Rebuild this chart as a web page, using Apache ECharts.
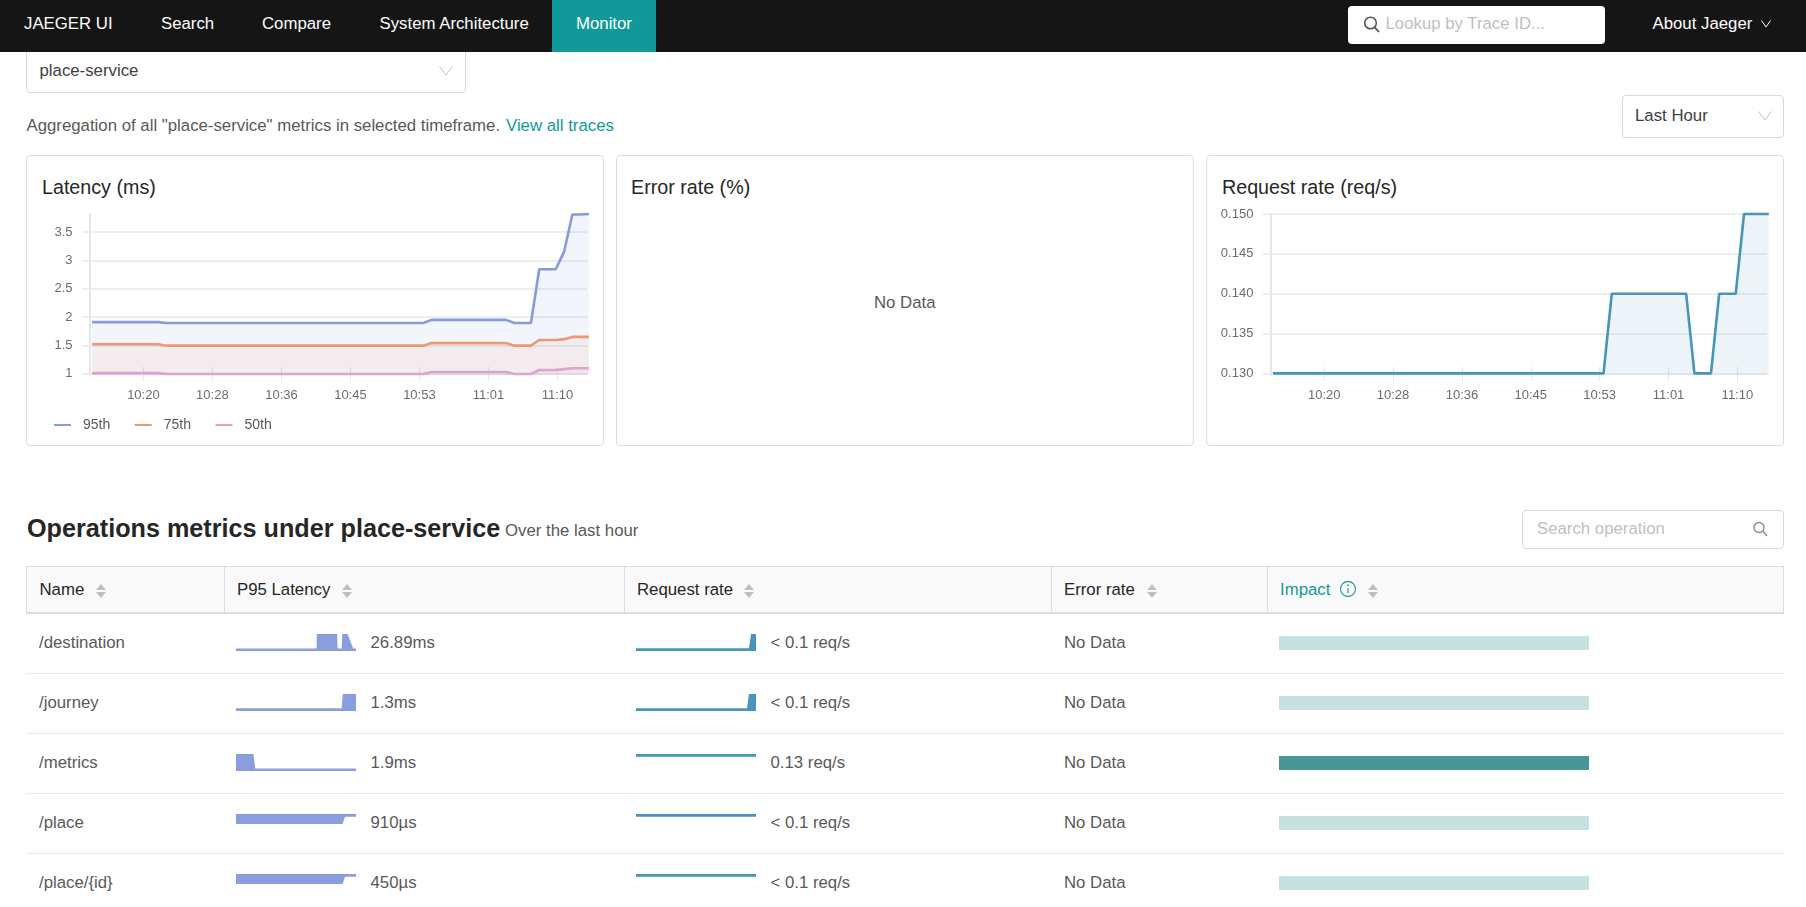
<!DOCTYPE html>
<html>
<head>
<meta charset="utf-8">
<title>Jaeger UI - Monitor</title>
<script src="https://cdn.jsdelivr.net/npm/echarts@6/dist/echarts.min.js"></script>
<style>
  html, body { margin: 0; padding: 0; background: #fff; overflow: hidden; width: 1806px; height: 907px; }
  body { font-family: "Liberation Sans", Arial, sans-serif; font-size: 16.8px; color: #595959; position: relative; }
  .abs { position: absolute; white-space: nowrap; }
  .t { position: absolute; white-space: nowrap; line-height: 20px; margin-top: -10px; }
  .nav { position: absolute; left: 0; top: 0; width: 1806px; height: 52px; background: #151515; z-index: 5; }
  .nav .t { color: #fff; top: 24px; }
  .box { position: absolute; box-sizing: border-box; border: 1.5px solid #d9d9d9; border-radius: 4px; background: #fff; }
  .card { position: absolute; box-sizing: border-box; top: 155px; height: 291px; border: 1.5px solid #ddd; border-radius: 4px; }
  .title { font-size: 19.7px; color: #262626; top: 187px; line-height: 24px; margin-top: -12px; }
  .chart { position: absolute; }
  .head { position: absolute; left: 26px; top: 565.5px; width: 1758px; height: 48px; box-sizing: border-box; background: #fafafa; border: 1.5px solid #ddd; border-bottom-width: 2px; }
  .vline { position: absolute; top: 565.5px; height: 48px; width: 1.5px; background: #ddd; }
  .hline { position: absolute; left: 26px; width: 1758px; height: 1.2px; background: #e8e8e8; }
  .up, .down { position: absolute; width: 0; height: 0; border-left: 5px solid transparent; border-right: 5px solid transparent; }
  .up { border-bottom: 6px solid #bfbfbf; }
  .down { border-top: 6px solid #bfbfbf; }
  .hd { color: #262626; top: 590px; }
</style>
</head>
<body>

<div class="nav">
  <span class="t" style="left:24px">JAEGER UI</span>
  <span class="t" style="left:161px">Search</span>
  <span class="t" style="left:262px">Compare</span>
  <span class="t" style="left:379.5px">System Architecture</span>
  <div class="abs" style="left:552px;top:0;width:104px;height:52px;background:#119999"></div>
  <span class="t" style="left:576px">Monitor</span>
  <div class="abs" style="left:1348px;top:6px;width:257px;height:38px;background:#fff;border-radius:4px"></div>
  <svg class="abs" style="left:1363px;top:15px" width="18" height="20" viewBox="0 0 18 20"><circle cx="7.5" cy="8" r="5.8" fill="none" stroke="#555" stroke-width="1.6"/><line x1="11.8" y1="12.4" x2="16" y2="17" stroke="#555" stroke-width="1.8"/></svg>
  <span class="t" style="left:1385.5px;color:#bfbfbf">Lookup by Trace ID...</span>
  <span class="t" style="left:1652.5px">About Jaeger</span>
  <svg class="abs" style="left:1761px;top:20px" width="10" height="8" viewBox="0 0 10 8"><polyline points="0.5,0.5 5,7 9.5,0.5" fill="none" stroke="#fff" stroke-width="1"/></svg>
</div>

<div class="box" style="left:26px;top:40px;width:440px;height:53px"></div>
<span class="t" style="left:39.5px;top:70.5px;color:#404040">place-service</span>
<svg class="abs" style="left:439px;top:66px" width="14" height="10" viewBox="0 0 14 10"><polyline points="0.5,0.5 7,9 13.5,0.5" fill="none" stroke="#bfbfbf" stroke-width="1"/></svg>

<span class="t" style="left:26.5px;top:125.5px">Aggregation of all "place-service" metrics in selected timeframe.</span>
<span class="t" style="left:506px;top:125.5px;color:#119999">View all traces</span>

<div class="box" style="left:1622px;top:95px;width:162px;height:43px"></div>
<span class="t" style="left:1635px;top:115.5px;color:#404040">Last Hour</span>
<svg class="abs" style="left:1758px;top:110.5px" width="14" height="10" viewBox="0 0 14 10"><polyline points="0.5,0.5 7,9 13.5,0.5" fill="none" stroke="#bfbfbf" stroke-width="1"/></svg>

<div class="card" style="left:26px;width:578px"></div>
<div class="card" style="left:616px;width:578px"></div>
<div class="card" style="left:1206px;width:578px"></div>
<span class="t title" style="left:42px">Latency (ms)</span>
<span class="t title" style="left:631px">Error rate (%)</span>
<span class="t title" style="left:1222px">Request rate (req/s)</span>
<span class="t" style="left:874px;top:303px">No Data</span>

<div id="latencyChart" class="chart" style="left:27px;top:156px;width:576px;height:289px"></div>
<div id="requestChart" class="chart" style="left:1220.5px;top:156px;width:562.5px;height:289px"></div>

<span class="t" style="left:27px;top:528px;font-size:25.2px;font-weight:bold;color:#262626;line-height:30px;margin-top:-15px">Operations metrics under place-service</span>
<span class="t" style="left:505px;top:531px">Over the last hour</span>
<div class="box" style="left:1522px;top:510px;width:262px;height:39px"></div>
<span class="t" style="left:1537px;top:528.5px;color:#bfbfbf">Search operation</span>
<svg class="abs" style="left:1752px;top:520px" width="18" height="20" viewBox="0 0 18 20"><circle cx="7" cy="7.5" r="5" fill="none" stroke="#8c8c8c" stroke-width="1.4"/><line x1="10.8" y1="11.3" x2="15" y2="16" stroke="#8c8c8c" stroke-width="1.5"/></svg>

<div class="head"></div>
<div class="vline" style="left:223.5px"></div>
<div class="vline" style="left:623.5px"></div>
<div class="vline" style="left:1050.5px"></div>
<div class="vline" style="left:1266.5px"></div>
<span class="t hd" style="left:39.5px">Name</span>
<span class="t hd" style="left:237px">P95 Latency</span>
<span class="t hd" style="left:637px">Request rate</span>
<span class="t hd" style="left:1064px">Error rate</span>
<span class="t hd" style="left:1280px;color:#119999">Impact</span>
<svg class="abs" style="left:1339px;top:580px" width="18" height="18" viewBox="0 0 18 18"><circle cx="9" cy="9" r="7.5" fill="none" stroke="#3f9ea0" stroke-width="1.3"/><circle cx="9" cy="5.3" r="1" fill="#3f9ea0"/><line x1="9" y1="8" x2="9" y2="13.2" stroke="#3f9ea0" stroke-width="1.3"/></svg>
<div class="up" style="left:96px;top:583.5px"></div><div class="down" style="left:96px;top:591.5px"></div>
<div class="up" style="left:342px;top:583.5px"></div><div class="down" style="left:342px;top:591.5px"></div>
<div class="up" style="left:744px;top:583.5px"></div><div class="down" style="left:744px;top:591.5px"></div>
<div class="up" style="left:1147px;top:583.5px"></div><div class="down" style="left:1147px;top:591.5px"></div>
<div class="up" style="left:1368px;top:583.5px"></div><div class="down" style="left:1368px;top:591.5px"></div>

<div class="hline" style="top:672.5px"></div>
<div class="hline" style="top:732.5px"></div>
<div class="hline" style="top:792.5px"></div>
<div class="hline" style="top:852.5px"></div>

<div id="rows"></div>
<div id="impactChart" class="chart" style="left:1279px;top:612.5px;width:310px;height:300px"></div>

<script>
// minutes of the day, one sample a minute over the last hour
var sampleMinutes = [
  613.8, 614.8, 615.8, 616.8, 617.8, 618.8, 619.8, 620.8, 621.8, 622.8,
  623.8, 624.8, 625.8, 626.8, 627.8, 628.8, 629.8, 630.8, 631.8, 632.8,
  633.8, 634.8, 635.8, 636.8, 637.8, 638.8, 639.8, 640.8, 641.8, 642.8,
  643.8, 644.8, 645.8, 646.8, 647.8, 648.8, 649.8, 650.8, 651.8, 652.8,
  653.8, 654.8, 655.8, 656.8, 657.8, 658.8, 659.8, 660.8, 661.8, 662.8,
  663.8, 664.8, 665.8, 666.8, 667.8, 668.8, 669.8, 670.8, 671.8, 672.8,
  673.8
];
var tickMinutes = [620, 628.33, 636.67, 645, 653.33, 661.67, 670];
var tickLabels = ['10:20', '10:28', '10:36', '10:45', '10:53', '11:01', '11:10'];

var p95 = [
  1.91, 1.91, 1.91, 1.91, 1.91, 1.91, 1.91, 1.91, 1.91, 1.895,
  1.895, 1.895, 1.895, 1.895, 1.895, 1.895, 1.895, 1.895, 1.895, 1.895,
  1.895, 1.895, 1.895, 1.895, 1.895, 1.895, 1.895, 1.895, 1.895, 1.895,
  1.895, 1.895, 1.895, 1.895, 1.895, 1.895, 1.895, 1.895, 1.895, 1.895,
  1.895, 1.95, 1.95, 1.95, 1.95, 1.95, 1.95, 1.95, 1.95, 1.95,
  1.95, 1.895, 1.895, 1.895, 2.845, 2.845, 2.845, 3.155, 3.81, 3.81,
  3.82
];
var p75 = [
  1.52, 1.52, 1.52, 1.52, 1.52, 1.52, 1.52, 1.52, 1.52, 1.495,
  1.495, 1.495, 1.495, 1.495, 1.495, 1.495, 1.495, 1.495, 1.495, 1.495,
  1.495, 1.495, 1.495, 1.495, 1.495, 1.495, 1.495, 1.495, 1.495, 1.495,
  1.495, 1.495, 1.495, 1.495, 1.495, 1.495, 1.495, 1.495, 1.495, 1.495,
  1.495, 1.54, 1.54, 1.54, 1.54, 1.54, 1.54, 1.54, 1.54, 1.54,
  1.54, 1.495, 1.495, 1.495, 1.595, 1.595, 1.595, 1.61, 1.65, 1.65,
  1.65
];
var p50 = [
  1.01, 1.01, 1.01, 1.01, 1.01, 1.01, 1.01, 1.01, 1.01, 0.995,
  0.995, 0.995, 0.995, 0.995, 0.995, 0.995, 0.995, 0.995, 0.995, 0.995,
  0.995, 0.995, 0.995, 0.995, 0.995, 0.995, 0.995, 0.995, 0.995, 0.995,
  0.995, 0.995, 0.995, 0.995, 0.995, 0.995, 0.995, 0.995, 0.995, 0.995,
  0.995, 1.03, 1.03, 1.03, 1.03, 1.03, 1.03, 1.03, 1.03, 1.03,
  1.03, 0.995, 0.995, 0.995, 1.065, 1.065, 1.065, 1.08, 1.095, 1.095,
  1.095
];
var requestRate = [
  0.13, 0.13, 0.13, 0.13, 0.13, 0.13, 0.13, 0.13, 0.13, 0.13,
  0.13, 0.13, 0.13, 0.13, 0.13, 0.13, 0.13, 0.13, 0.13, 0.13,
  0.13, 0.13, 0.13, 0.13, 0.13, 0.13, 0.13, 0.13, 0.13, 0.13,
  0.13, 0.13, 0.13, 0.13, 0.13, 0.13, 0.13, 0.13, 0.13, 0.13,
  0.13, 0.14, 0.14, 0.14, 0.14, 0.14, 0.14, 0.14, 0.14, 0.14,
  0.14, 0.13, 0.13, 0.13, 0.14, 0.14, 0.14, 0.15, 0.15, 0.15,
  0.15
];
var latencyTicks = [1, 1.5, 2, 2.5, 3, 3.5];
var requestTicks = [0.13, 0.135, 0.14, 0.145, 0.15];

var operations = ['/destination', '/journey', '/metrics', '/place', '/place/{id}'];
var latencyTexts = ['26.89ms', '1.3ms', '1.9ms', '910µs', '450µs'];
var requestTexts = ['< 0.1 req/s', '< 0.1 req/s', '0.13 req/s', '< 0.1 req/s', '< 0.1 req/s'];
var impactValues = [1, 1, 1, 1, 1];
var impactColors = ['#c6e1df', '#c6e1df', '#469798', '#c6e1df', '#c6e1df'];

// sparkline vertices: sample index and share of the sparkline's height
var destLatencyX = [0, 40.3, 40.4, 50.6, 50.8, 52.9, 53.1, 55.8, 58.6, 60];
var destLatencyY = [0.15, 0.15, 1, 1, 0.15, 0.15, 1, 1, 0.15, 0.15];
var journeyLatencyX = [0, 52.8, 53.4, 55, 55.3, 55.6, 60];
var journeyLatencyY = [0.16, 0.16, 1, 1, 0.95, 1, 1];
var metricsLatencyX = [0, 8.7, 9.6, 60];
var metricsLatencyY = [1, 1, 0.15, 0.15];
var flatTopX = [0, 53.3, 54.5, 60];
var flatTopY = [1, 1, 1, 1];
var flatTopLower = [0.41, 0.41, 0.84, 0.84];
var destRequestX = [0, 56.5, 57.5, 60];
var destRequestY = [0.16, 0.16, 1, 1];
var journeyRequestX = [0, 55.5, 56.5, 60];
var journeyRequestY = [0.16, 0.16, 1, 1];
var flatRequestX = [0, 60];
var flatRequestY = [1, 1];
var flatRequestLower = [0.84, 0.84];

var pairs = function (xs, ys) {
  return xs.map(function (x, i) { return [x, ys[i]]; });
};
var axisGrey = '#e6e6e9';
var labelGrey = '#6b6b76';

var timeAxis = {
  type: 'value',
  min: 613.55,
  max: 673.57,
  offset: 6,
  splitLine: { show: false },
  axisLine: { show: false },
  axisTick: { customValues: tickMinutes, inside: true, length: 14, lineStyle: { color: axisGrey, width: 1.2 } },
  axisLabel: {
    customValues: tickMinutes,
    margin: 8,
    fontSize: 13,
    fontFamily: 'Liberation Sans',
    color: labelGrey,
    formatter: function (value) { return tickLabels[tickMinutes.indexOf(value)]; }
  }
};
var valueAxis = function (min, max, ticks, format) {
  return {
    type: 'value',
    min: min,
    max: max,
    axisLine: { show: true, lineStyle: { color: axisGrey, width: 2 } },
    axisTick: { show: true, customValues: ticks, length: 8, lineStyle: { color: '#eeeef0', width: 2 } },
    splitLine: { show: true, lineStyle: { color: '#eeeef0', width: 2 } },
    axisLabel: {
      customValues: ticks,
      margin: 17.5,
      fontSize: 13,
      fontFamily: 'Liberation Sans',
      color: labelGrey,
      formatter: format
    }
  };
};
var areaLine = function (name, data, color) {
  return {
    name: name,
    type: 'line',
    data: pairs(sampleMinutes, data),
    clip: false,
    showSymbol: false,
    lineStyle: { color: color, width: 2.6 },
    itemStyle: { color: color },
    areaStyle: { color: color, opacity: 0.1, origin: 'start' }
  };
};

var latencyChart = echarts.init(document.getElementById('latencyChart'));
latencyChart.setOption({
  animation: false,
  grid: { left: 63, top: 58, width: 497, height: 161, outerBoundsMode: 'none' },
  legend: {
    left: 22,
    top: 257,
    icon: 'rect',
    itemWidth: 17,
    itemHeight: 2,
    itemGap: 24.5,
    textStyle: { fontSize: 14, fontFamily: 'Liberation Sans', color: '#595959', padding: [0, 0, 0, 7] },
    data: ['95th', '75th', '50th']
  },
  xAxis: timeAxis,
  yAxis: valueAxis(0.977, 3.82, latencyTicks, function (v) { return String(v); }),
  series: [
    areaLine('95th', p95, '#869ADD'),
    areaLine('75th', p75, '#EA9977'),
    areaLine('50th', p50, '#DCA3D2')
  ]
});

var requestChart = echarts.init(document.getElementById('requestChart'));
requestChart.setOption({
  animation: false,
  grid: { left: 49.9, top: 58, width: 496, height: 161, outerBoundsMode: 'none' },
  xAxis: timeAxis,
  yAxis: valueAxis(0.1298, 0.15, requestTicks, function (v) { return v.toFixed(3); }),
  series: [areaLine('Request rate', requestRate, '#4795BA')]
});

var impactChart = echarts.init(document.getElementById('impactChart'));
impactChart.setOption({
  animation: false,
  grid: { left: 0, right: 0, top: 0, bottom: 0 },
  xAxis: { type: 'value', min: 0, max: 1, show: false },
  yAxis: { type: 'category', inverse: true, show: false, data: operations },
  series: [{
    type: 'bar',
    barWidth: 14,
    data: impactValues.map(function (v, i) {
      return { value: v, itemStyle: { color: impactColors[i] } };
    })
  }]
});

// one small area chart per table cell; lower paints the row's white back over the fill
var spark = function (id, xs, ys, color, lower) {
  var series = [{
    type: 'line',
    data: pairs(xs, ys),
    showSymbol: false,
    lineStyle: { width: 0 },
    areaStyle: { color: color, opacity: 1, origin: 'start' }
  }];
  if (lower) {
    series.push({
      type: 'line',
      data: pairs(xs, lower),
      showSymbol: false,
      lineStyle: { width: 0 },
      areaStyle: { color: '#fff', opacity: 1, origin: 'start' }
    });
  }
  echarts.init(document.getElementById(id)).setOption({
    animation: false,
    grid: { left: 0, right: 0, top: 0, bottom: 0 },
    xAxis: { type: 'value', min: 0, max: 60, show: false },
    yAxis: { type: 'value', min: 0, max: 1, show: false },
    series: series
  });
};

var rowsHtml = '';
operations.forEach(function (name, i) {
  var mid = 643.3 + i * 60;
  rowsHtml += '<span class="t" style="left:39px;top:' + mid + 'px">' + name + '</span>';
  rowsHtml += '<div id="lat' + i + '" class="chart" style="left:236px;top:' + (mid - 9.3) + 'px;width:120px;height:17px"></div>';
  rowsHtml += '<span class="t" style="left:370.5px;top:' + mid + 'px">' + latencyTexts[i] + '</span>';
  rowsHtml += '<div id="req' + i + '" class="chart" style="left:636px;top:' + (mid - 9.3) + 'px;width:120px;height:17px"></div>';
  rowsHtml += '<span class="t" style="left:770.5px;top:' + mid + 'px">' + requestTexts[i].replace('<', '&lt;') + '</span>';
  rowsHtml += '<span class="t" style="left:1064px;top:' + mid + 'px">No Data</span>';
});
document.getElementById('rows').innerHTML = rowsHtml;

var latencyBlue = '#8a9ddf';
var requestBlue = '#4795BA';
spark('lat0', destLatencyX, destLatencyY, latencyBlue);
spark('lat1', journeyLatencyX, journeyLatencyY, latencyBlue);
spark('lat2', metricsLatencyX, metricsLatencyY, latencyBlue);
spark('lat3', flatTopX, flatTopY, latencyBlue, flatTopLower);
spark('lat4', flatTopX, flatTopY, latencyBlue, flatTopLower);
spark('req0', destRequestX, destRequestY, requestBlue);
spark('req1', journeyRequestX, journeyRequestY, requestBlue);
spark('req2', flatRequestX, flatRequestY, requestBlue, flatRequestLower);
spark('req3', flatRequestX, flatRequestY, requestBlue, flatRequestLower);
spark('req4', flatRequestX, flatRequestY, requestBlue, flatRequestLower);
</script>
</body>
</html>
